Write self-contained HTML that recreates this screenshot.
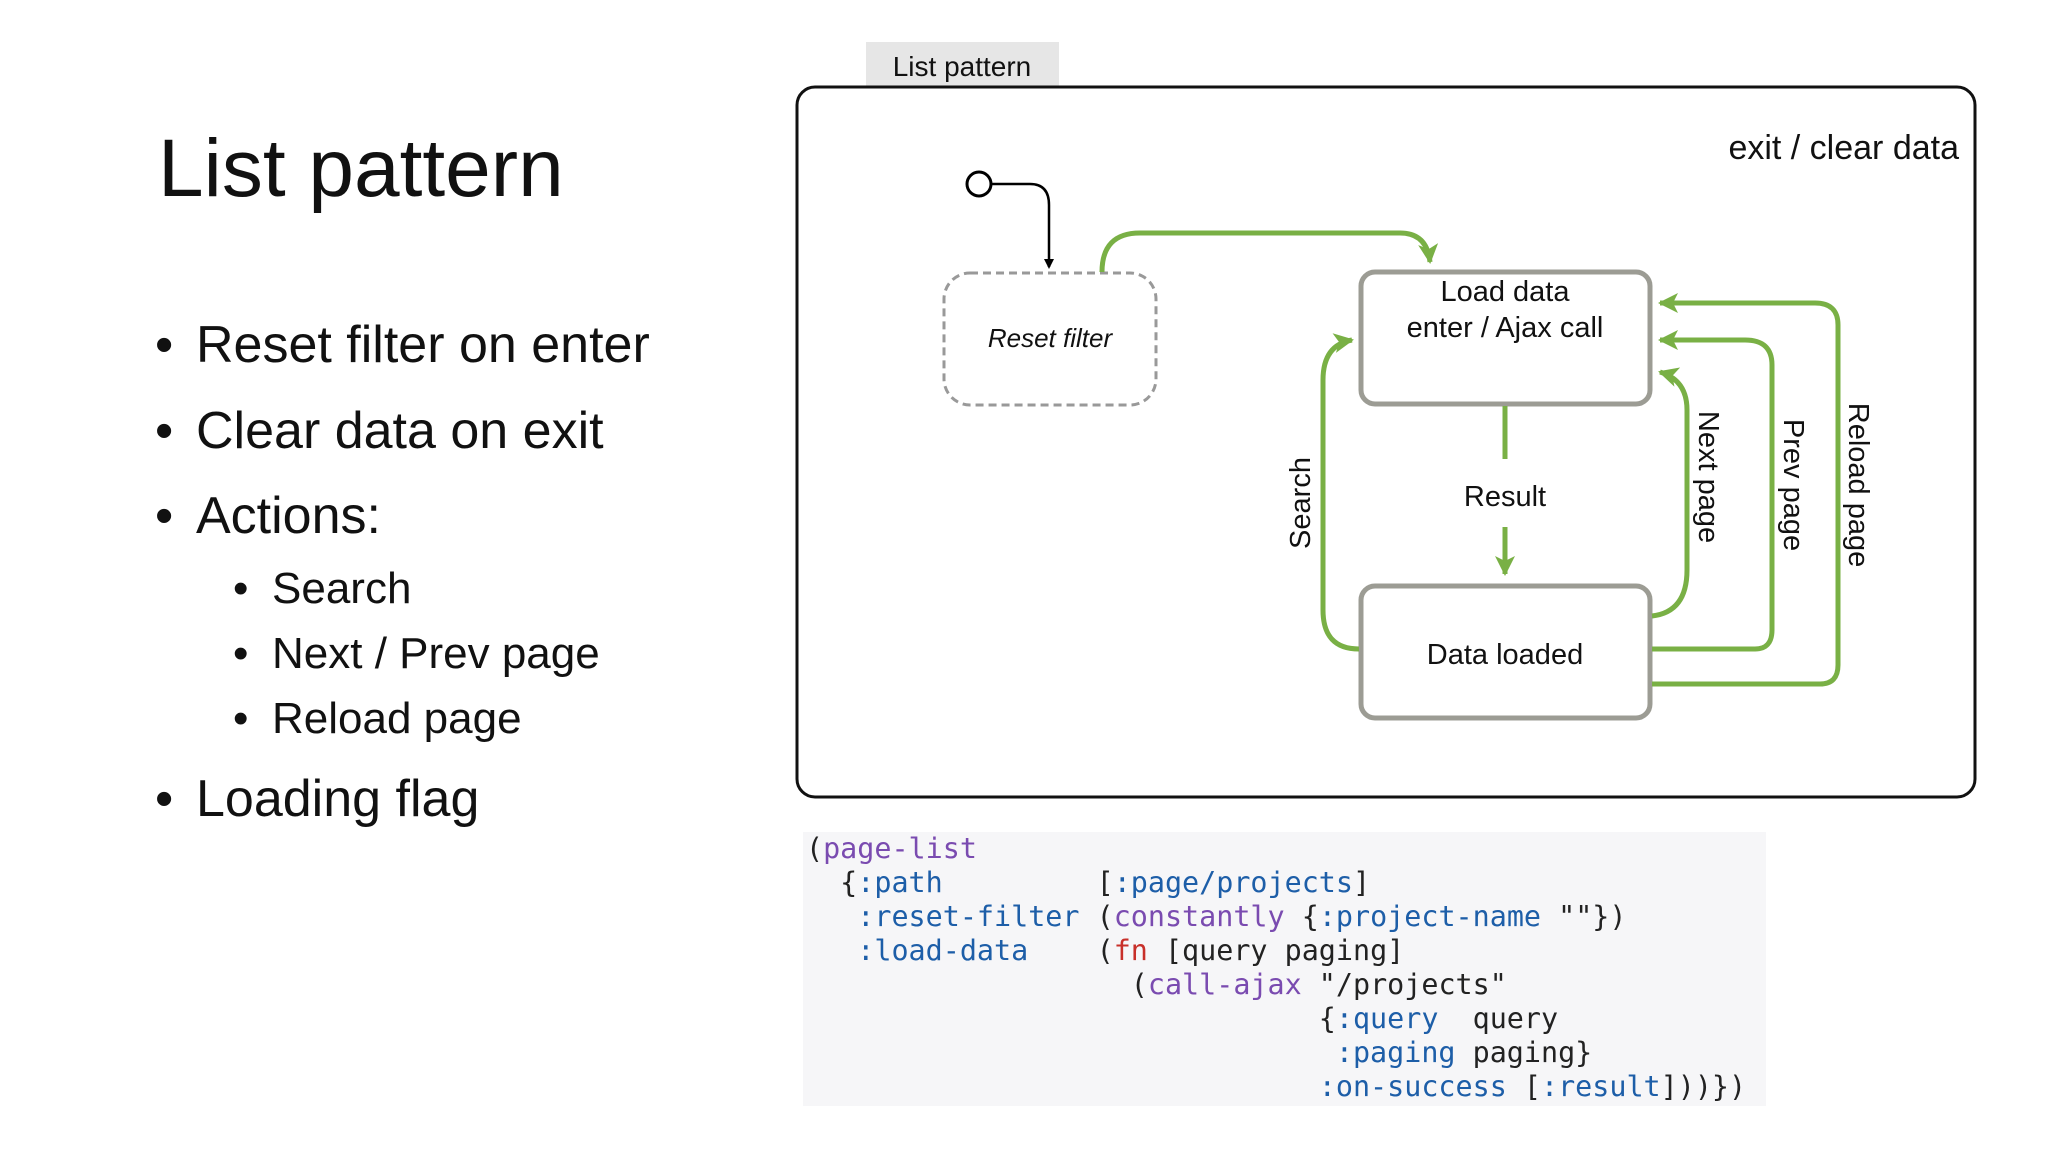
<!DOCTYPE html>
<html><head><meta charset="utf-8"><style>
html,body{margin:0;padding:0;background:#fff;}
body{width:2048px;height:1152px;position:relative;overflow:hidden;font-family:"Liberation Sans",sans-serif;}
.code{position:absolute;left:803px;top:832px;width:963px;height:274px;background:#f6f6f8;}
pre{position:absolute;left:806px;top:832px;margin:0;font-family:"DejaVu Sans Mono","Liberation Mono",monospace;font-size:28.4px;line-height:34px;color:#222;}
.p{color:#7a4bb0}.k{color:#1d5ea8}.r{color:#c8302a}
</style></head><body>
<svg width="2048" height="1152" style="position:absolute;left:0;top:0">
<defs>
<marker id="ab" markerWidth="10" markerHeight="10" refX="8" refY="5" orient="auto" markerUnits="userSpaceOnUse"><path d="M0,0 L10,5 L0,10 z" fill="#000"/></marker>
<marker id="ag" markerWidth="22" markerHeight="20" refX="18" refY="10" orient="auto" markerUnits="userSpaceOnUse"><path d="M0,0 L20,10 L0,20 L5,10 z" fill="#79b045"/></marker>
</defs>
<text x="158" y="196" font-family="Liberation Sans" font-size="82" fill="#111">List pattern</text>
<g font-family="Liberation Sans" fill="#111">
<text x="155" y="362" font-size="52">•</text><text x="196" y="362" font-size="52">Reset filter on enter</text>
<text x="155" y="448" font-size="52">•</text><text x="196" y="448" font-size="52">Clear data on exit</text>
<text x="155" y="533" font-size="52">•</text><text x="196" y="533" font-size="52">Actions:</text>
<text x="233" y="603" font-size="44">•</text><text x="272" y="603" font-size="44">Search</text>
<text x="233" y="668" font-size="44">•</text><text x="272" y="668" font-size="44">Next / Prev page</text>
<text x="233" y="733" font-size="44">•</text><text x="272" y="733" font-size="44">Reload page</text>
<text x="155" y="816" font-size="52">•</text><text x="196" y="816" font-size="52">Loading flag</text>
</g>
<rect x="866" y="42" width="193" height="45" fill="#e6e6e6"/>
<text x="962" y="76" text-anchor="middle" font-size="28" fill="#111">List pattern</text>
<rect x="797" y="87" width="1178" height="710" rx="18" fill="none" stroke="#111" stroke-width="3"/>
<text x="1959" y="159" text-anchor="end" font-size="34" fill="#111">exit / clear data</text>
<circle cx="979" cy="184" r="12" fill="#fff" stroke="#000" stroke-width="3"/>
<path d="M991,184 H1030 Q1049,184 1049,205 V267" fill="none" stroke="#000" stroke-width="2.5" marker-end="url(#ab)"/>
<rect x="944" y="273" width="212" height="132" rx="26" fill="none" stroke="#999" stroke-width="3" stroke-dasharray="8,5"/>
<text x="1050" y="347" text-anchor="middle" font-size="26" font-style="italic" fill="#111">Reset filter</text>
<rect x="1361" y="272" width="289" height="132" rx="14" fill="none" stroke="#9c9c94" stroke-width="5"/>
<text x="1505" y="301" text-anchor="middle" font-size="29" fill="#111">Load data</text>
<text x="1505" y="337" text-anchor="middle" font-size="29" fill="#111">enter / Ajax call</text>
<rect x="1361" y="586" width="289" height="132" rx="14" fill="none" stroke="#9c9c94" stroke-width="5"/>
<text x="1505" y="664" text-anchor="middle" font-size="29" fill="#111">Data loaded</text>
<g fill="none" stroke="#79b045" stroke-width="5">
<path d="M1505,406 V459"/>
<path d="M1505,527 V574" marker-end="url(#ag)"/>
<path d="M1102,272 Q1102,233 1140,233 H1400 Q1427,233 1430,262" marker-end="url(#ag)"/>
<path d="M1359,649 Q1323,649 1323,610 V380 Q1323,345 1352,340" marker-end="url(#ag)"/>
<path d="M1652,616 Q1687,612 1687,570 V410 Q1687,380 1660,372" marker-end="url(#ag)"/>
<path d="M1652,649 H1755 Q1772,649 1772,630 V365 Q1772,340 1745,340 H1660" marker-end="url(#ag)"/>
<path d="M1652,684 H1820 Q1838,684 1838,665 V325 Q1838,303 1815,303 H1660" marker-end="url(#ag)"/>
</g>
<text x="1505" y="506" text-anchor="middle" font-size="29" fill="#111">Result</text>
<g font-size="29" fill="#111">
<text transform="translate(1310,503) rotate(-90)" text-anchor="middle">Search</text>
<text transform="translate(1699,477) rotate(90)" text-anchor="middle">Next page</text>
<text transform="translate(1784,485) rotate(90)" text-anchor="middle">Prev page</text>
<text transform="translate(1849,485) rotate(90)" text-anchor="middle">Reload page</text>
</g>
</svg>
<div class="code"></div>
<pre>(<span class="p">page-list</span>
  {<span class="k">:path</span>         [<span class="k">:page/projects</span>]
   <span class="k">:reset-filter</span> (<span class="p">constantly</span> {<span class="k">:project-name</span> ""})
   <span class="k">:load-data</span>    (<span class="r">fn</span> [query paging]
                   (<span class="p">call-ajax</span> "/projects"
                              {<span class="k">:query</span>  query
                               <span class="k">:paging</span> paging}
                              <span class="k">:on-success</span> [<span class="k">:result</span>]))})</pre>
</body></html>
